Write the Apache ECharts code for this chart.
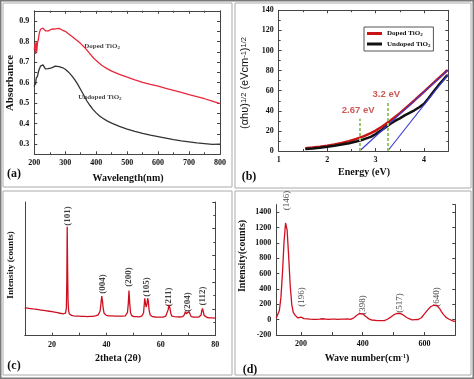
<!DOCTYPE html>
<html><head><meta charset="utf-8">
<script src="https://cdn.jsdelivr.net/npm/echarts@6/dist/echarts.min.js"></script>
<style>html,body{margin:0;padding:0;background:#fff}#c{width:474px;height:379px}</style>
</head><body><div id="c"></div>
<script>
// ---------- Panel (a) UV-Vis absorbance ----------
const aWave = [200,202,204,206,208,210,213,216,220,224,228,232,236,240,245,250,256,262,268,274,280,286,292,300,310,320,330,340,350,360,370,380,390,400,410,420,435,450,475,500,525,550,575,600,625,650,675,700,725,750,775,800];
const aDoped = [0.76,0.79,0.74,0.80,0.75,0.79,0.81,0.84,0.86,0.868,0.865,0.858,0.852,0.845,0.852,0.855,0.86,0.856,0.862,0.866,0.864,0.86,0.855,0.85,0.838,0.827,0.815,0.803,0.79,0.775,0.758,0.74,0.722,0.707,0.694,0.682,0.668,0.656,0.64,0.626,0.613,0.601,0.591,0.582,0.572,0.562,0.552,0.541,0.531,0.521,0.509,0.497];
const aUndoped = [0.58,0.60,0.59,0.62,0.615,0.63,0.65,0.665,0.68,0.688,0.686,0.678,0.667,0.662,0.668,0.665,0.672,0.676,0.68,0.68,0.678,0.675,0.672,0.665,0.652,0.635,0.615,0.592,0.565,0.538,0.51,0.488,0.468,0.452,0.438,0.427,0.413,0.402,0.386,0.373,0.362,0.352,0.343,0.336,0.329,0.322,0.316,0.311,0.306,0.302,0.298,0.3];
const aNames = ['Doped TiO2','Undoped TiO2'];
const aNoteWave = [419, 412];
const aNoteAbs = [0.777, 0.528];

// ---------- Panel (b) Tauc plot ----------
const bEnergy = [1.55,1.7,1.85,2.0,2.15,2.3,2.45,2.6,2.75,2.9,3.0,3.1,3.2,3.3,3.4,3.5,3.6,3.7,3.8,3.9,4.0,4.1,4.2,4.3,4.4,4.48];
const bDoped = [2.8,3.5,4.3,5.3,6.5,8.0,9.8,12.0,14.6,17.8,20.3,23.2,26.5,30.0,33.8,37.7,41.8,46.0,50.3,54.7,59.1,63.6,68.0,72.4,76.8,80.3];
const bUndoped = [2.0,2.6,3.3,4.2,5.2,6.4,7.8,9.5,11.5,14.0,16.8,20.0,23.5,27.0,30.0,32.5,35.5,38.0,40.5,43.5,47.0,53.0,59.5,65.5,71.0,75.5];
const bTangentDoped = [[2.67,0],[4.5,81]];
const bTangentUndoped = [[3.25,0],[4.5,76.5]];
const bGapEnergy = [2.67, 3.25];
const bArrowTop = [32, 50];
const bGapText = ['2.67 eV', '3.2 eV'];
const bGapTextE = [2.64, 3.22];
const bGapTextY = [40.8, 56.7];

// ---------- Panel (c) XRD ----------
const cTheta = [10,10.5,11,11.5,12,12.5,13,13.5,14,14.5,15,15.5,16,16.5,17,17.5,18,18.5,19,19.5,20,20.5,21,21.5,22,22.5,23,23.5,24,24.5,25,25.3,25.45,25.6,25.75,25.9,26.1,26.4,26.8,27.2,27.6,28,28.5,29,29.5,30,30.5,31,31.5,32,32.5,33,33.5,34,34.5,35,35.5,36,36.5,37,37.3,37.7,38,38.3,38.55,38.85,39.15,39.5,40,40.5,41,41.5,42,42.5,43,43.5,44,44.5,45,45.5,46,46.5,47,47.3,47.75,48.05,48.3,48.55,48.85,49.2,49.6,50,50.5,51,51.5,52,52.5,53,53.3,53.65,53.9,54.1,54.3,54.6,54.9,55.15,55.4,55.7,56.1,56.5,57,57.5,58,58.5,59,59.5,60,60.5,61,61.4,61.8,62.3,62.7,63,63.3,63.7,64.1,64.6,65,65.5,66,66.5,67,67.5,68,68.3,68.7,69,69.4,69.8,70.1,70.4,70.8,71.2,71.6,72,72.5,73,73.5,74,74.4,74.8,75.05,75.3,75.55,75.9,76.4,77,77.5,78,78.5,79,79.5,80];
const cIntensity = [20.8,20.2,20.6,19.9,20.3,19.6,20.0,19.4,19.8,19.2,19.5,18.9,19.2,18.6,18.9,18.3,18.6,18.0,18.3,17.7,18.0,17.4,17.6,17.0,17.2,16.6,16.8,16.2,16.3,16.0,16.8,21,40,81.5,50,27,19,16.2,15.5,15.2,15.6,14.9,15.3,14.7,15.1,14.6,15.0,14.5,14.9,14.4,14.8,14.3,14.7,14.4,14.8,14.5,15.0,14.8,15.4,15.6,16.2,18.5,24,29.6,26,20,16.8,15.4,15.2,14.6,14.9,14.4,14.8,14.3,14.7,14.3,14.6,14.2,14.6,14.3,14.7,14.5,14.9,15.3,17.5,24,33.7,25,17.5,15.2,14.6,14.3,14.6,14.2,14.5,14.1,14.5,14.6,14.9,17,23,28,25,21.5,23.5,28,26,19,15.5,14.6,14.2,14.5,14.0,14.4,13.9,14.3,13.9,14.2,14.0,14.3,14.6,16.0,19.5,23,21,16.5,14.6,14.0,14.3,13.8,14.1,13.7,14.0,13.7,14.2,14.2,15.8,18,16.5,16.2,17,18,15.8,14.2,13.7,14.0,13.6,13.9,13.6,14.0,14.0,15.5,18.5,20.5,18.5,15.2,13.9,13.6,13.9,13.4,13.7,13.3,13.6,13.2];
const cPeakText = ['(101)','(004)','(200)','(105)','(211)','(204)','(112)'];
const cPeakTheta = [25.9,38.7,48.3,54.9,63.0,69.9,75.4];
const cPeakLabelY = [89.5,38.7,43.9,36.4,29,25.2,29.7];

// ---------- Panel (d) Raman ----------
const dWave = [120,125,130,135,140,145,150,155,160,165,170,175,180,185,190,195,200,205,210,215,220,225,230,235,240,245,250,255,260,265,270,275,280,285,290,295,300,305,310,315,320,325,330,335,340,345,350,355,360,365,370,375,380,385,390,395,400,405,410,415,420,425,430,435,440,445,450,455,460,465,470,475,480,485,490,495,500,505,510,515,520,525,530,535,540,545,550,555,560,565,570,575,580,585,590,595,600,605,610,615,620,625,630,635,640,645,650,655,660,665,670,675,680,685,690,695,700];
const dIntensity = [22,45,120,290,610,1010,1260,1170,830,450,200,95,62,45,22,30,34,24,14,4,10,-2,6,-6,3,-4,5,-3,7,-2,12,2,8,-5,4,-3,6,-1,8,0,5,-4,7,1,6,-3,9,2,5,12,20,35,55,70,80,83,76,60,40,22,10,2,-5,-10,-8,-14,-12,-17,-13,-18,-12,-8,5,15,30,50,62,72,80,78,83,75,65,50,35,22,12,5,-2,-5,0,-6,2,10,25,50,75,100,125,148,168,180,188,191,185,168,140,105,75,50,30,15,5,-5,-12,-18,-25];
const dPeakText = ['(146)','(196)','(398)','(517)','(640)'];
const dPeakWave = [154,203,399,521,638];
const dPeakLabelY = [1555,296,191,217,296];

// ---------- helpers ----------
const SERIF = '"Liberation Serif","Times New Roman",serif';
const SANS = '"Liberation Sans",Arial,sans-serif';
const zip = (xs, ys) => xs.map((x, i) => [x, ys[i]]);
const subRich = {
  sub: {fontSize: 5, verticalAlign: 'bottom', fontFamily: SERIF, fontWeight: 'bold', color: '#111', padding: [3,0,0,0]}
};
const tio = s => s.replace('TiO2', 'TiO{sub|2}');

function ax(grid, pos, o) {
  const showLabel = o.label !== false;
  const a = {
    type: 'value', gridIndex: grid, position: pos,
    min: o.min, max: o.max, interval: o.interval,
    axisLine: {show: true, onZero: false, lineStyle: {color: '#444', width: 1}},
    axisTick: {show: o.ticks !== false, inside: true, length: 3, lineStyle: {color: '#444', width: 1}},
    minorTick: {show: !!o.minor, splitNumber: o.minor || 2, length: 2, lineStyle: {color: '#444', width: 1}},
    splitLine: {show: false},
    axisLabel: {show: showLabel, fontFamily: SERIF, fontWeight: 'bold', fontSize: 8, color: '#111', margin: 5,
      showMaxLabel: o.showMax !== undefined ? o.showMax : true, showMinLabel: true,
      formatter: o.formatter || (v => String(v))}
  };
  if (o.tickValues) a.axisTick.customValues = o.tickValues;
  if (o.labelValues) a.axisLabel.customValues = o.labelValues;
  return a;
}
const tenth = v => (Math.abs(Math.round(v * 10) - v * 10) < 1e-6 ? v.toFixed(1) : '');

const xAxis = [
  ax(0, 'bottom', {min: 200, max: 800, interval: 100, minor: 2}),
  ax(0, 'top', {min: 200, max: 800, interval: 100, minor: 2, label: false}),
  ax(1, 'bottom', {min: 1, max: 4.5, interval: 1, minor: 2, showMax: false}),
  ax(1, 'top', {min: 1, max: 4.5, interval: 1, minor: 2, label: false}),
  ax(2, 'bottom', {min: 10, max: 80, interval: 10, formatter: v => (v % 20 === 0 ? String(v) : '')}),
  ax(3, 'bottom', {min: 120, max: 700, interval: 20, tickValues: [200,300,400,500,600,700], labelValues: [200,400,600]})
];
const yAxis = [
  ax(0, 'left', {min: 0.25, max: 0.95, interval: 0.05, formatter: tenth}),
  ax(0, 'right', {min: 0.25, max: 0.95, interval: 0.05, label: false}),
  ax(1, 'left', {min: 0, max: 140, interval: 20, minor: 2}),
  ax(1, 'right', {min: 0, max: 140, interval: 20, minor: 2, label: false}),
  ax(2, 'left', {min: 0, max: 100, interval: 20, label: false, ticks: false}),
  ax(2, 'right', {min: 0, max: 100, interval: 20, minor: 2, label: false}),
  ax(3, 'left', {min: -200, max: 1500, interval: 200, showMax: false}),
  ax(3, 'right', {min: -200, max: 1500, interval: 200, label: false})
];

function labelSeries(xi, yi, xs, ys, texts, style) {
  return {
    type: 'scatter', xAxisIndex: xi, yAxisIndex: yi, clip: false, silent: true,
    symbolSize: 1, itemStyle: {color: 'transparent'},
    data: xs.map((x, i) => [x, ys[i], texts[i]]),
    label: Object.assign({show: true, position: 'inside', textBorderWidth: 0, formatter: p => p.data[2]}, style)
  };
}

const series = [
  {type: 'line', name: 'a-doped', xAxisIndex: 0, yAxisIndex: 0, data: zip(aWave, aDoped), symbol: 'none', lineStyle: {color: '#e8283a', width: 1.3}},
  {type: 'line', name: 'a-undoped', xAxisIndex: 0, yAxisIndex: 0, data: zip(aWave, aUndoped), symbol: 'none', lineStyle: {color: '#333', width: 1.3}},
  labelSeries(0, 0, aNoteWave, aNoteAbs, aNames.map(tio), {fontFamily: SERIF, fontWeight: 'bold', fontSize: 7, color: '#111', rich: subRich}),

  {type: 'line', name: 'Doped TiO2', xAxisIndex: 2, yAxisIndex: 2, data: zip(bEnergy, bDoped), symbol: 'none', color: '#c81414', lineStyle: {color: '#c81414', width: 2.5}},
  {type: 'line', name: 'Undoped TiO2', xAxisIndex: 2, yAxisIndex: 2, data: zip(bEnergy, bUndoped), symbol: 'none', color: '#111', lineStyle: {color: '#111', width: 2.5}},
  {type: 'line', name: 'tan1', xAxisIndex: 2, yAxisIndex: 2, data: bTangentDoped, symbol: 'none', lineStyle: {color: '#3a3ad0', width: 1.1}},
  {type: 'line', name: 'tan2', xAxisIndex: 2, yAxisIndex: 2, data: bTangentUndoped, symbol: 'none', lineStyle: {color: '#3a3ad0', width: 1.1},
    markLine: {silent: true, symbol: ['none', 'triangle'], symbolSize: [0, 7], label: {show: false},
      lineStyle: {type: [3, 2], color: '#9cc46a', width: 2},
      data: bGapEnergy.map((e, i) => [{coord: [e, 0]}, {coord: [e, bArrowTop[i]]}])}},
  labelSeries(2, 2, bGapTextE, bGapTextY, bGapText, {fontFamily: SANS, fontWeight: 'bold', fontSize: 9.5, color: '#c0302a'}),

  {type: 'line', name: 'xrd', xAxisIndex: 4, yAxisIndex: 4, data: zip(cTheta, cIntensity), symbol: 'none', lineStyle: {color: '#cc1020', width: 1.3}},
  labelSeries(4, 4, cPeakTheta, cPeakLabelY, cPeakText, {rotate: 90, fontFamily: SERIF, fontWeight: 'bold', fontSize: 9, color: '#111'}),

  {type: 'line', name: 'raman', xAxisIndex: 5, yAxisIndex: 6, data: zip(dWave, dIntensity), symbol: 'none', lineStyle: {color: '#d01020', width: 1.3}},
  labelSeries(5, 6, dPeakWave, dPeakLabelY, dPeakText, {rotate: 90, fontFamily: SERIF, fontSize: 9, color: '#111'})
];

function txt(x, y, text, font, rot, rich) {
  return {type: 'text', x: x, y: y, rotation: rot ? Math.PI / 2 : 0, z: 100,
    style: {text: text, font: font, fill: '#111', align: 'center', verticalAlign: 'middle', rich: rich}};
}
const supRich = {sup: {fontSize: 7.5, verticalAlign: 'top', fontFamily: SANS, fill: '#111'}};
const graphic = [
  {type: 'rect', z: -10, shape: {x: 0, y: 0, width: 474, height: 379}, style: {fill: '#fff', stroke: '#7a7a7a', lineWidth: 3}},
  {type: 'rect', z: -9, shape: {x: 3, y: 3, width: 229, height: 184}, style: {fill: 'none', stroke: '#aaa', lineWidth: 1}},
  {type: 'rect', z: -9, shape: {x: 235, y: 3, width: 236, height: 185}, style: {fill: 'none', stroke: '#aaa', lineWidth: 1}},
  {type: 'rect', z: -9, shape: {x: 3, y: 191, width: 229, height: 184}, style: {fill: 'none', stroke: '#aaa', lineWidth: 1}},
  {type: 'rect', z: -9, shape: {x: 235, y: 191, width: 236, height: 184}, style: {fill: 'none', stroke: '#aaa', lineWidth: 1}},
  txt(10, 83, 'Absorbance', 'bold 11px ' + SERIF, true),
  txt(128, 178, 'Wavelength(nm)', 'bold 10px ' + SERIF),
  txt(14, 174, '(a)', 'bold 12px ' + SERIF),
  txt(245, 83, '(αhυ){sup|1/2} (eVcm{sup|-1}){sup|1/2}', '11px ' + SANS, true, supRich),
  txt(364, 172, 'Energy (eV)', 'bold 10px ' + SERIF),
  txt(249, 177, '(b)', 'bold 12px ' + SERIF),
  txt(11, 265, 'Intensity (counts)', 'bold 9px ' + SERIF, true),
  txt(118, 358, '2theta (2θ)', 'bold 10px ' + SERIF),
  txt(14, 366, '(c)', 'bold 12px ' + SERIF),
  txt(242, 256, 'Intensity(counts)', 'bold 10px ' + SERIF, true),
  txt(367, 358, 'Wave number(cm{sup|-1})', 'bold 10px ' + SERIF, false, {sup: {fontSize: 6, verticalAlign: 'top', fontFamily: SERIF, fontWeight: 'bold', fill: '#111'}}),
  txt(250, 370, '(d)', 'bold 12px ' + SERIF)
];

const chart = echarts.init(document.getElementById('c'), null, {renderer: 'canvas'});
chart.setOption({
  animation: false,
  backgroundColor: '#fff',
  grid: [
    {left: 34.3, top: 10.8, width: 185.7, height: 143.5},
    {left: 278.7, top: 10.3, width: 169.6, height: 140.7},
    {left: 24.75, top: 202, width: 190.5, height: 133.7},
    {left: 276.3, top: 204.6, width: 179, height: 130.4}
  ],
  legend: {
    data: ['Doped TiO2', 'Undoped TiO2'], orient: 'vertical', left: 364, top: 27,
    itemWidth: 15, itemHeight: 3, itemGap: 3, padding: [3, 3, 3, 3], icon: 'rect',
    borderColor: '#555', borderWidth: 1, backgroundColor: '#fff',
    formatter: tio,
    textStyle: {fontFamily: SERIF, fontWeight: 'bold', fontSize: 7, color: '#111', rich: subRich}
  },
  xAxis: xAxis, yAxis: yAxis, series: series, graphic: graphic
});
</script></body></html>
